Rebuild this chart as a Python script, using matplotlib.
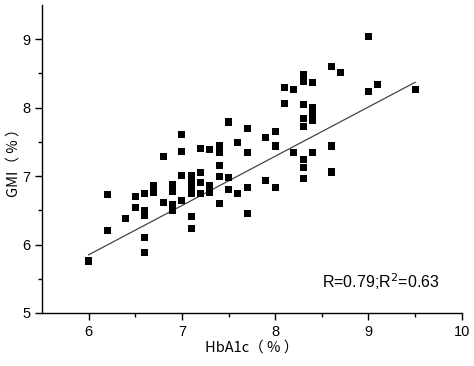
import numpy as np
import matplotlib
matplotlib.use("Agg")
import matplotlib.pyplot as plt

# HbA1c (%) values and GMI (%) values
hba1c = [6.0,
         6.2, 6.2,
         6.4,
         6.5, 6.5,
         6.6, 6.6, 6.6, 6.6, 6.6,
         6.7, 6.7,
         6.8, 6.8,
         6.9, 6.9, 6.9, 6.9,
         7.0, 7.0, 7.0, 7.0,
         7.1, 7.1, 7.1, 7.1, 7.1, 7.1,
         7.2, 7.2, 7.2, 7.2,
         7.3, 7.3, 7.3,
         7.4, 7.4, 7.4, 7.4, 7.4,
         7.5, 7.5, 7.5,
         7.6, 7.6,
         7.7, 7.7, 7.7, 7.7,
         7.9, 7.9,
         8.0, 8.0, 8.0,
         8.1, 8.1,
         8.2, 8.2,
         8.3, 8.3, 8.3, 8.3, 8.3, 8.3, 8.3, 8.3,
         8.4, 8.4, 8.4, 8.4, 8.4,
         8.6, 8.6, 8.6,
         8.7,
         9.0, 9.0,
         9.1,
         9.5]
gmi = [5.76,
       6.73, 6.20,
       6.38,
       6.70, 6.54,
       6.75, 6.50, 6.43, 6.10, 5.89,
       6.86, 6.76,
       7.28, 6.62,
       6.87, 6.77, 6.58, 6.50,
       7.61, 7.36, 7.01, 6.65,
       7.01, 6.91, 6.82, 6.75, 6.41, 6.24,
       7.40, 7.05, 6.90, 6.75,
       7.39, 6.86, 6.76,
       7.44, 7.34, 7.15, 7.00, 6.60,
       7.79, 6.98, 6.80,
       7.49, 6.75,
       7.69, 7.35, 6.83, 6.46,
       7.56, 6.94,
       7.65, 7.44, 6.83,
       8.29, 8.06,
       8.27, 7.35,
       8.49, 8.39, 8.04, 7.84, 7.73, 7.24, 7.12, 6.97,
       8.37, 8.00, 7.92, 7.82, 7.35,
       8.60, 7.44, 7.06,
       8.51,
       9.04, 8.23,
       8.34,
       8.27]

# fitted line as drawn in the reference (slope, intercept)
fit_slope = 0.72
fit_intercept = 1.53

annotation = "R=0.79;R$^2$=0.63"
xticks = [6, 7, 8, 9, 10]
yticks = [5, 6, 7, 8, 9]

plt.rcParams['font.family'] = ['Liberation Sans', 'DejaVu Sans']

fig = plt.figure(figsize=(4.74, 3.66), dpi=100)
ax = fig.add_axes([42/474, 1 - 313/366, (461.7 - 42)/474, (313 - 5)/366])

x = np.array(hba1c)
y = np.array(gmi)
ax.scatter(x, y, marker='s', s=26, color='black', edgecolors='none', zorder=3)

xl = np.array([x.min(), x.max()])
ax.plot(xl, fit_intercept + fit_slope * xl, color='#444444', lw=0.9, zorder=2)

ax.set_xlim(5.5, 10)
ax.set_ylim(5, 9.5)
ax.set_xticks(xticks)
ax.set_yticks(yticks)
ax.set_xticks(np.arange(6.5, 10, 1), minor=True)
ax.set_yticks(np.arange(5.5, 9.5, 1), minor=True)
ax.tick_params(which='major', direction='out', length=5, width=1, labelsize=10.5)
ax.tick_params(which='minor', direction='out', length=3, width=1)
for s in ['top', 'right']:
    ax.spines[s].set_visible(False)
for s in ['left', 'bottom']:
    ax.spines[s].set_linewidth(1)

ax.set_xlabel("HbA1c（ % ）", family=['Noto Sans CJK SC', 'DejaVu Sans'], fontsize=10.5, labelpad=1)
ax.set_ylabel("GMI（ % ）", family=['Noto Sans CJK SC', 'DejaVu Sans'], fontsize=10.5, labelpad=1)

ax.text(8.5, 5.46, annotation, fontsize=11.5, ha='left', va='center')

fig.savefig("out.png", dpi=100)
